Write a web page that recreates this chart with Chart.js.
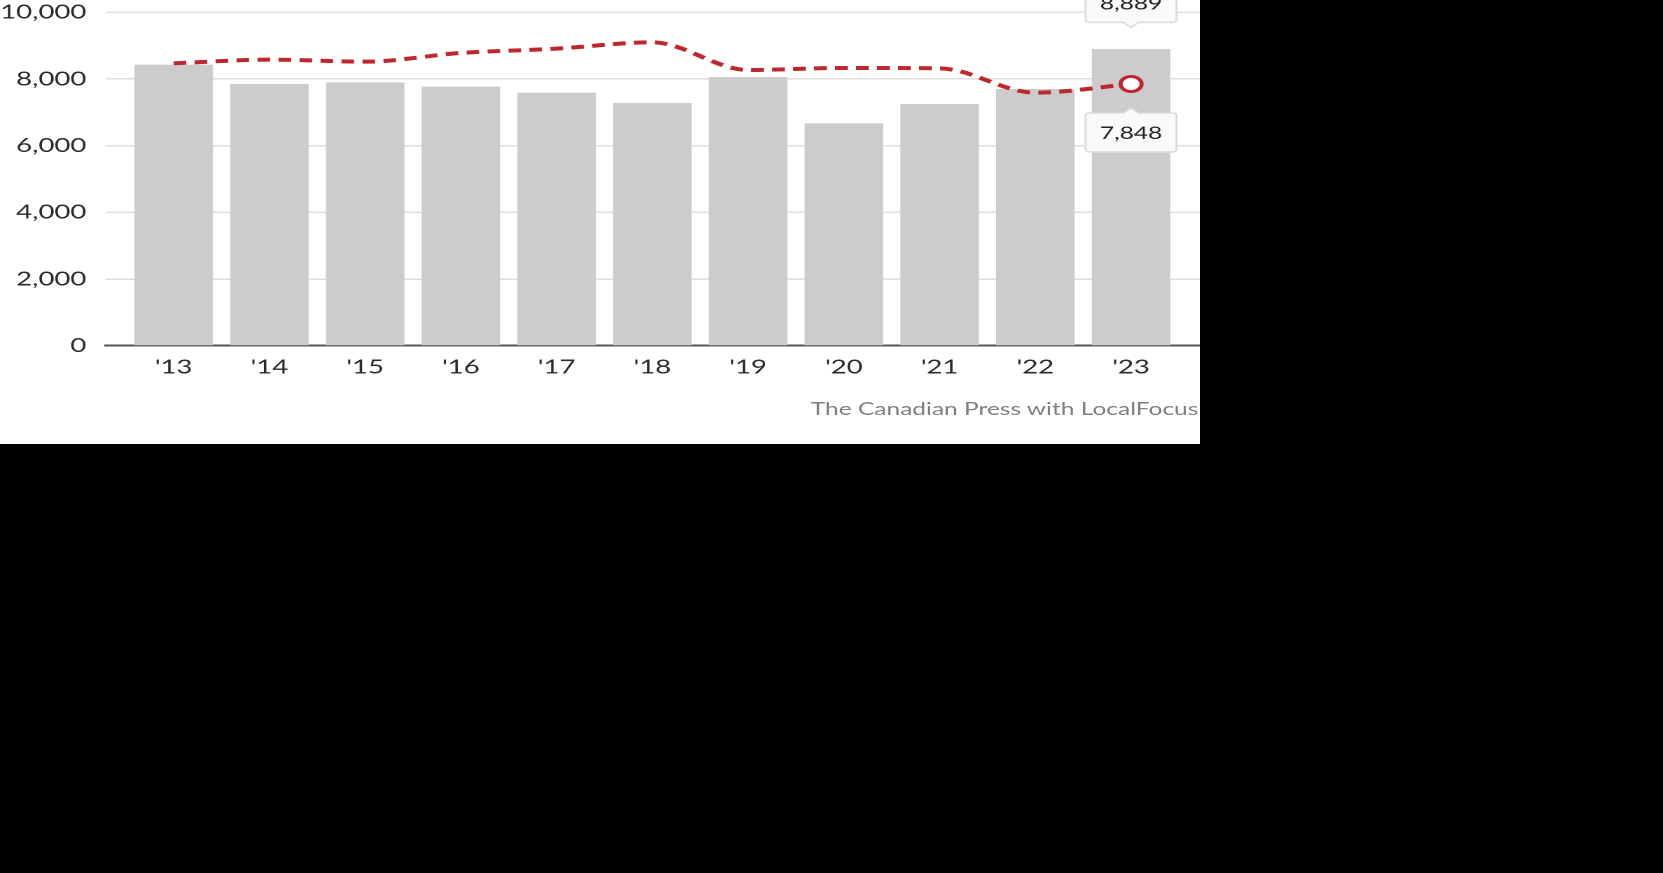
<!DOCTYPE html>
<html>
<head>
<meta charset="utf-8">
<title>Yearly totals</title>
<script src="https://cdn.jsdelivr.net/npm/chart.js@4.4.1/dist/chart.umd.min.js"></script>
<style>
    html, body { margin: 0; padding: 0; background: #000; }
    /* the reference is stretched sideways, so the whole white card is scaled on x */
    #card {
        position: absolute; left: 0; top: 0;
        width: 857px; height: 444px;
        background: #fff;
        transform: scaleX(1.4);
        transform-origin: 0 0;
        overflow: hidden;
    }
    #chart-wrap { position: absolute; left: 0; top: 0; width: 857px; height: 444px; }
    #source {
        position: absolute; right: 1px; top: 399px;
        font: 17.5px Lato, sans-serif; line-height: 20px;
        color: #808080; white-space: nowrap;
    }
</style>
</head>
<body>
<div id="card">
    <div id="chart-wrap"><canvas id="yearChart"></canvas></div>
    <div id="source">The Canadian Press with LocalFocus</div>
</div>

<script>
/*=========================== data ===========================*/
const years = [2013, 2014, 2015, 2016, 2017, 2018, 2019, 2020, 2021, 2022, 2023];
const yearLabels = ["'13", "'14", "'15", "'16", "'17", "'18", "'19", "'20", "'21", "'22", "'23"];
const barValues = [8420, 7840, 7890, 7760, 7580, 7270, 8050, 6660, 7240, 7690, 8889];
const lineValues = [8470, 8580, 8520, 8780, 8910, 9100, 8270, 8330, 8320, 7590, 7848];
const yTicks = [0, 2000, 4000, 6000, 8000, 10000];

const RED = '#c0272d';
const lastIndex = years.length - 1;

/*=========================== callout boxes ===========================*/
function drawCallout(ctx, x, tipY, text, side) {
    const w = 65, h = 39, arrow = 5, arrowHalf = 5.5, r = 3;
    const left = x - w / 2, right = x + w / 2;
    let top, bottom;
    if (side === 'above') {
        bottom = tipY - arrow;
        top = bottom - h;
    } else {
        top = tipY + arrow;
        bottom = top + h;
    }

    ctx.save();
    ctx.beginPath();
    ctx.moveTo(left + r, top);
    if (side === 'below') {
        ctx.lineTo(x - arrowHalf, top);
        ctx.lineTo(x, tipY);
        ctx.lineTo(x + arrowHalf, top);
    }
    ctx.lineTo(right - r, top);
    ctx.quadraticCurveTo(right, top, right, top + r);
    ctx.lineTo(right, bottom - r);
    ctx.quadraticCurveTo(right, bottom, right - r, bottom);
    if (side === 'above') {
        ctx.lineTo(x + arrowHalf, bottom);
        ctx.lineTo(x, tipY);
        ctx.lineTo(x - arrowHalf, bottom);
    }
    ctx.lineTo(left + r, bottom);
    ctx.quadraticCurveTo(left, bottom, left, bottom - r);
    ctx.lineTo(left, top + r);
    ctx.quadraticCurveTo(left, top, left + r, top);
    ctx.closePath();
    ctx.fillStyle = '#fafafa';
    ctx.fill();
    ctx.lineWidth = 1.5;
    ctx.strokeStyle = '#dcdcdc';
    ctx.stroke();

    ctx.fillStyle = '#222';
    ctx.font = '17.5px Lato, sans-serif';
    ctx.textAlign = 'center';
    ctx.textBaseline = 'middle';
    ctx.fillText(text, x, (top + bottom) / 2 + 1);
    ctx.restore();
}

const calloutPlugin = {
    id: 'callouts',
    afterDatasetsDraw(chart) {
        const ctx = chart.ctx;
        const bar = chart.getDatasetMeta(0).data[lastIndex];
        const point = chart.getDatasetMeta(1).data[lastIndex];
        drawCallout(ctx, bar.x, bar.y - 22, barValues[lastIndex].toLocaleString('en-US'), 'above');
        drawCallout(ctx, point.x, point.y + 24, lineValues[lastIndex].toLocaleString('en-US'), 'below');
    }
};

/*=========================== chart ===========================*/
document.addEventListener('DOMContentLoaded', () => {
    const ctx = document.getElementById('yearChart').getContext('2d');

    new Chart(ctx, {
        type: 'bar',
        data: {
            datasets: [
                {
                    type: 'bar',
                    data: years.map((y, i) => ({ x: y, y: barValues[i] })),
                    backgroundColor: '#cccccc',
                    borderWidth: 0,
                    barThickness: 55.4,
                    order: 2
                },
                {
                    type: 'line',
                    data: years.map((y, i) => ({ x: y, y: lineValues[i] })),
                    borderColor: RED,
                    borderWidth: 4,
                    borderDash: [9, 6],
                    cubicInterpolationMode: 'monotone',
                    fill: false,
                    pointRadius: (c) => c.dataIndex === lastIndex ? 7.5 : 0,
                    pointBorderWidth: 3,
                    pointBorderColor: RED,
                    pointBackgroundColor: '#fff',
                    order: 1
                }
            ]
        },
        options: {
            responsive: true,
            maintainAspectRatio: false,
            animation: false,
            devicePixelRatio: 2,
            events: [],
            layout: { autoPadding: false, padding: { top: 12.3, right: 0, bottom: 0, left: 0 } },
            plugins: {
                legend: { display: false },
                tooltip: { enabled: false }
            },
            scales: {
                x: {
                    type: 'linear',
                    offset: false,
                    min: years[0] - 0.707,
                    max: years[lastIndex] + 0.718,
                    afterBuildTicks: (axis) => { axis.ticks = years.map(v => ({ value: v })); },
                    afterFit: (axis) => {
                        axis.height = 98.3;
                        axis.paddingLeft = 0;
                        axis.paddingRight = 0;
                    },
                    grid: { display: false, drawTicks: false, offset: false },
                    border: { display: true, color: '#555', width: 2 },
                    ticks: {
                        autoSkip: false,
                        maxRotation: 0,
                        padding: 9.5,
                        color: '#2a2a2a',
                        font: { family: 'Lato', size: 19.7 },
                        callback: (v) => yearLabels[years.indexOf(v)]
                    }
                },
                y: {
                    min: 0,
                    max: 10000,
                    afterBuildTicks: (axis) => { axis.ticks = yTicks.map(v => ({ value: v })); },
                    afterFit: (axis) => {
                        axis.width = 75.7;
                        axis.paddingTop = 0;
                        axis.paddingBottom = 0;
                    },
                    grid: { color: '#dedede', lineWidth: 1.5, drawTicks: false },
                    border: { display: false },
                    ticks: {
                        padding: 14,
                        color: '#2a2a2a',
                        font: { family: 'Lato', size: 19.7 },
                        callback: (v) => v.toLocaleString('en-US')
                    }
                }
            }
        },
        plugins: [calloutPlugin]
    });
});
</script>
</body>
</html>
